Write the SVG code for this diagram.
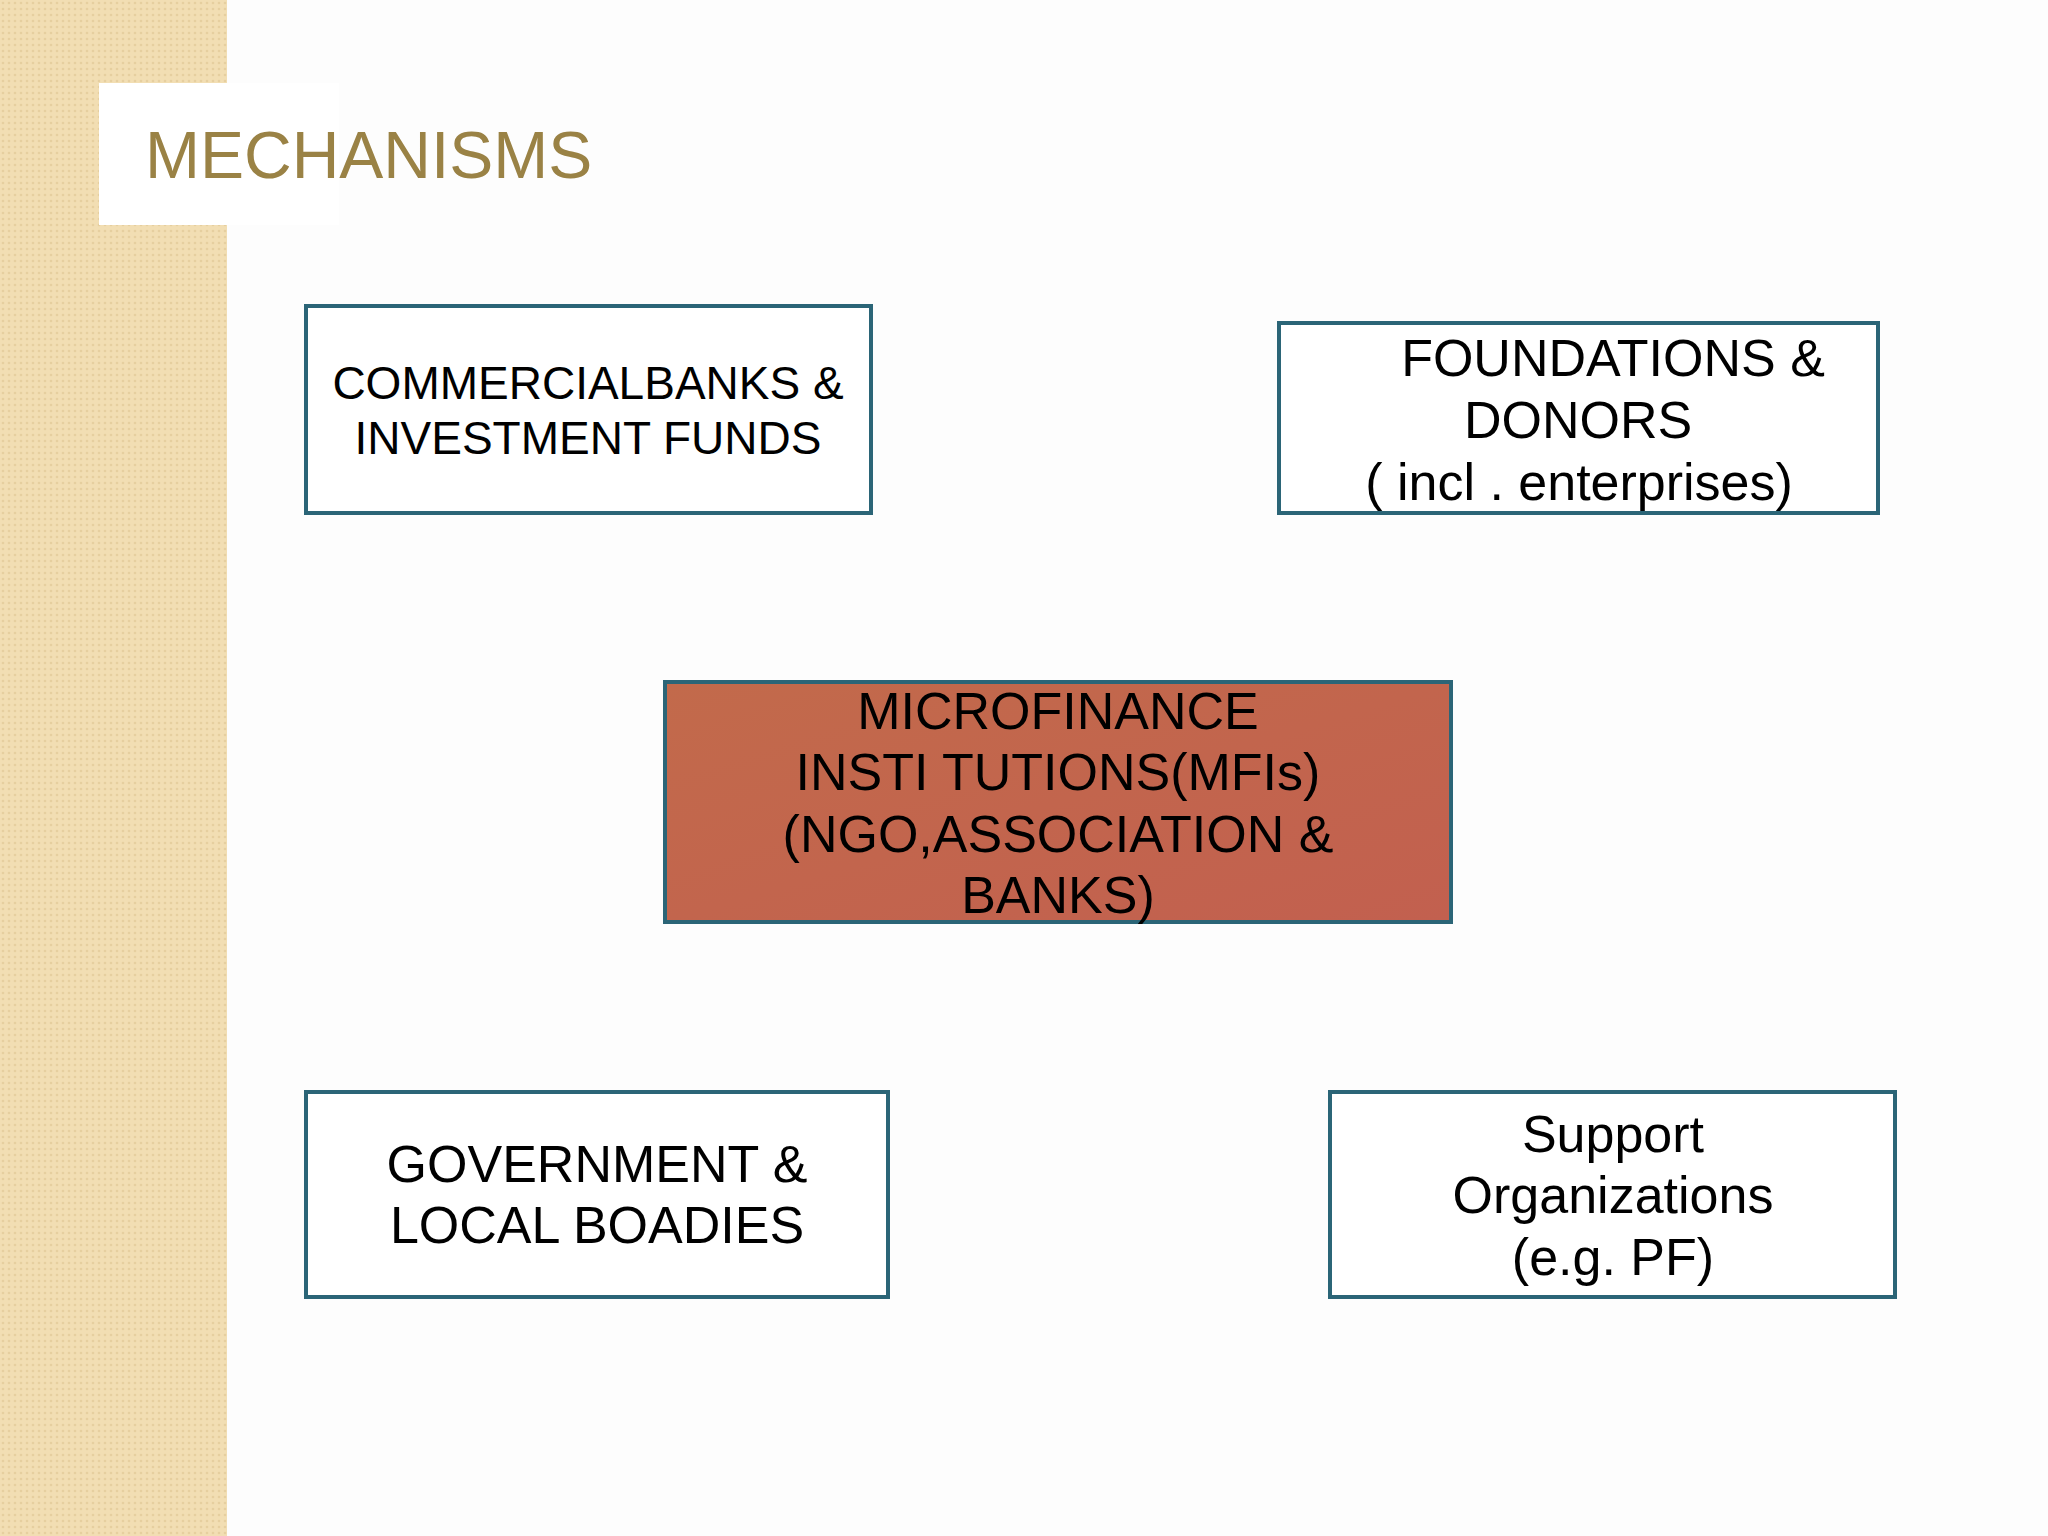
<svg xmlns="http://www.w3.org/2000/svg" width="2048" height="1536" viewBox="0 0 2048 1536">
<defs>
<pattern id="dots" width="6" height="6" patternUnits="userSpaceOnUse">
<rect width="6" height="6" fill="#f2deb3"/>
<circle cx="3" cy="3" r="1.3" fill="#e6cf9f"/>
</pattern>
<linearGradient id="red" x1="0" y1="0" x2="1" y2="1">
<stop offset="0" stop-color="#c26a4b"/><stop offset="1" stop-color="#c2604f"/>
</linearGradient>
</defs>
<style>
.box{fill:#fff;stroke:#2b6577;stroke-width:4}
.t{font-family:"Liberation Sans",Arial,sans-serif;fill:#000;text-anchor:middle}
</style>
<rect width="2048" height="1536" fill="#fdfdfd"/>
<rect x="0" y="0" width="227" height="1536" fill="url(#dots)"/>
<rect x="99" y="83" width="240" height="142" fill="#fff"/>
<text x="145" y="178" font-family="Liberation Sans,Arial,sans-serif" font-size="66" fill="#9a8245">MECHANISMS</text>
<g id="connectors"></g>
<g id="n1"><rect class="box" x="306" y="306" width="565" height="207"/>
<text class="t" font-size="46"><tspan x="588" y="399">COMMERCIALBANKS &amp;</tspan><tspan x="588" y="454">INVESTMENT FUNDS</tspan></text></g>
<g id="n2"><rect class="box" x="1279" y="323" width="599" height="190"/>
<text class="t" font-size="52"><tspan x="1613" y="376">FOUNDATIONS &amp;</tspan><tspan x="1578" y="438">DONORS</tspan><tspan x="1579" y="500">( incl . enterprises)</tspan></text></g>
<g id="n3"><rect x="665" y="682" width="786" height="240" fill="url(#red)" stroke="#2b6577" stroke-width="4"/>
<text class="t" font-size="52"><tspan x="1058" y="729">MICROFINANCE</tspan><tspan x="1058" y="790">INSTI TUTIONS(MFIs)</tspan><tspan x="1058" y="852">(NGO,ASSOCIATION &amp;</tspan><tspan x="1058" y="913">BANKS)</tspan></text></g>
<g id="n4"><rect class="box" x="306" y="1092" width="582" height="205"/>
<text class="t" font-size="52"><tspan x="597" y="1182">GOVERNMENT &amp;</tspan><tspan x="597" y="1243">LOCAL BOADIES</tspan></text></g>
<g id="n5"><rect class="box" x="1330" y="1092" width="565" height="205"/>
<text class="t" font-size="52"><tspan x="1613" y="1152">Support</tspan><tspan x="1613" y="1213">Organizations</tspan><tspan x="1613" y="1275">(e.g. PF)</tspan></text></g>
</svg>
